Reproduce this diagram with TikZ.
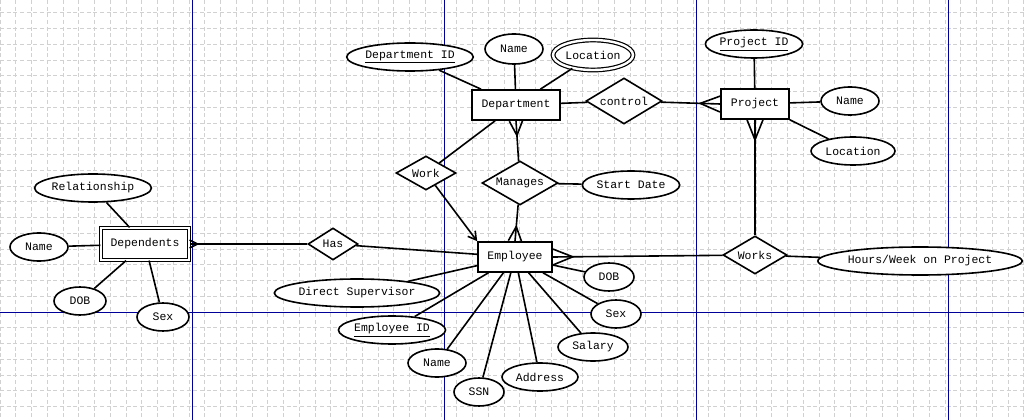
\documentclass[tikz,border=0pt]{standalone}
\usepackage{fontspec}
\setmainfont{Liberation Mono}
\usetikzlibrary{shapes.geometric,calc,arrows.meta}
\newcommand\crowft[4]{\draw ($(#1)!#4!90:(#2)$) -- ($(#1)!#3!(#2)$) -- ($(#1)!#4!-90:(#2)$);}
\begin{document}
\begin{tikzpicture}[x=0.75pt,y=-0.75pt,line width=1.2pt,
  every node/.style={font=\fontsize{8.6}{10}\selectfont, inner sep=0pt, draw, fill=white},
  ell/.style 2 args={ellipse, minimum width=#1*0.75pt, minimum height=#2*0.75pt},
  ent/.style 2 args={rectangle, minimum width=#1*0.75pt, minimum height=#2*0.75pt},
  rel/.style 2 args={diamond, aspect=1.6, minimum width=#1*0.75pt, minimum height=#2*0.75pt},
  dbl/.style={double, double distance=1.8pt, line width=0.9pt},
  grid line/.style={line width=0.4pt, dash pattern=on 3pt off 2pt, black!18}]
\useasboundingbox (0,0) rectangle (1024,420);
\fill[white] (0,0) rectangle (1024,420);
% grid
\foreach \i in {0,...,65} {
  \draw[grid line] (\i*15.75,0) -- (\i*15.75,420);}
\foreach \j in {-7,...,19} {
  \draw[grid line] (0,312-\j*15.75) -- (1024,312-\j*15.75);}
\foreach \x in {192,444,696,948} \draw[line width=0.7pt, blue!60!black] (\x,0) -- (\x,420);
\draw[line width=0.7pt, blue!60!black] (0,312) -- (1024,312);
% nodes
\node[ell={100}{28}] (did) at (410,57) {\underline{Department ID}};
\node[ell={58}{30}] (dname) at (514,49) {Name};
\node[ell={80}{30},dbl] (dloc) at (593,55) {Location};
\node[ent={88}{30}] (dept) at (516,105) {Department};
\node[rel={76}{46}] (ctrl) at (624,101) {control};
\node[ent={68}{30}] (proj) at (755,104) {Project};
\node[ell={96}{28}] (pid) at (754,44) {\underline{Project ID}};
\node[ell={58}{28}] (pname) at (850,101) {Name};
\node[ell={84}{28}] (ploc) at (853,151) {Location};
\node[rel={60}{34}] (work) at (426,173) {Work};
\node[rel={76}{44}] (man) at (520,183) {Manages};
\node[ell={96}{28}] (sdate) at (631,185) {Start Date};
\node[ell={108}{28}] (rels) at (93,188) {Relationship};
\node[ent={88}{32},dbl] (dep) at (145,244) {Dependents};
\node[ell={58}{28}] (depname) at (39,247) {Name};
\node[ell={52}{28}] (depdob) at (80,301) {DOB};
\node[ell={52}{28}] (depsex) at (163,317) {Sex};
\node[rel={50}{32}] (has) at (333,244) {Has};
\node[ent={74}{30}] (emp) at (515,257) {Employee};
\node[rel={64}{38}] (works) at (755,255) {Works};
\node[ell={166}{28}] (hours) at (920,261) {Hours/Week on Project};
\node[ell={50}{28}] (edob) at (609,277) {DOB};
\node[ell={140}{28}] (dsup) at (357,293) {Direct Supervisor};
\node[ell={50}{28}] (esex) at (616,314) {Sex};
\node[ell={102}{28}] (eid) at (392,330) {\underline{Employee ID}};
\node[ell={70}{28}] (sal) at (593,347) {Salary};
\node[ell={58}{28}] (ename) at (437,363) {Name};
\node[ell={76}{28}] (addr) at (540,377) {Address};
\node[ell={50}{28}] (ssn) at (479,392) {SSN};
% connectors
\draw (did) -- (dept); \draw (dname) -- (dept); \draw (dloc) -- (dept);
\draw (dept) -- (ctrl); \draw (ctrl) -- (proj.west); \crowft{proj.west}{ctrl}{15pt}{6pt}
\draw (pid) -- (proj); \draw (pname) -- (proj); \draw (ploc) -- (proj.south east);
\draw (dept) -- (work); \draw[-{Straight Barb[length=6pt,width=7pt]}] (work) -- (emp.north west);
\draw (man) -- (dept.south); \crowft{dept.south}{man}{11pt}{5pt}
\draw (man) -- (emp.north); \crowft{emp.north}{man}{11pt}{5pt}
\draw (man) -- (sdate);
\draw (rels) -- (dep); \draw (depname) -- (dep); \draw (depdob) -- (dep); \draw (depsex) -- (dep);
\draw (has) -- (dep.east); \crowft{dep.east}{has}{6pt}{3pt}
\draw (has) -- (emp);
\draw (emp.east) -- (works); \crowft{emp.east}{works}{15pt}{6pt}
\draw (works) -- (proj.south); \crowft{proj.south}{works}{15pt}{6pt}
\draw (works) -- (hours);
\foreach \a in {edob,esex,sal,addr,ssn,ename,eid,dsup} \draw (emp) -- (\a);
\end{tikzpicture}
\end{document}
